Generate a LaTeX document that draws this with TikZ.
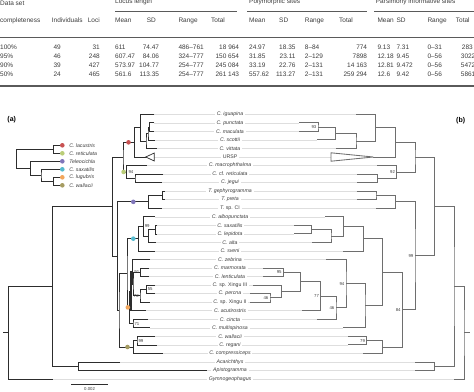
\documentclass[tikz,border=0pt]{standalone}
\usepackage{fontspec}
\setmainfont{Liberation Sans}
\definecolor{cred}{RGB}{200,82,82}
\definecolor{cgreen}{RGB}{186,205,120}
\definecolor{cpurple}{RGB}{128,118,186}
\definecolor{ccyan}{RGB}{84,186,206}
\definecolor{corange}{RGB}{242,166,92}
\definecolor{colive}{RGB}{166,156,98}
\definecolor{txtgray}{RGB}{60,60,60}
\definecolor{ltreecol}{RGB}{45,45,45}
\definecolor{rtreecol}{RGB}{110,110,110}
\definecolor{guidecol}{RGB}{222,222,222}
\definecolor{rulecol}{RGB}{90,90,90}
\begin{document}
\begin{tikzpicture}[x=1pt,y=-1pt,
  tabtxt/.style={font=\fontsize{6.5}{7.5}\selectfont, text=txtgray, inner sep=0pt},
  lab/.style={font=\fontsize{5.2}{6}\selectfont\itshape, text=txtgray, inner sep=1.6pt},
  suplab/.style={font=\fontsize{4.3}{5}\selectfont, text=txtgray, inner sep=0pt},
  panel/.style={font=\fontsize{7}{8}\selectfont\bfseries, text=black, inner sep=0pt},
  ltree/.style={draw=ltreecol, line width=0.7pt},
  rtree/.style={draw=rtreecol, line width=0.85pt},
  itree/.style={draw=ltreecol, line width=0.9pt},
  guide/.style={draw=guidecol, line width=0.45pt},
  tdot/.style={circle, inner sep=0pt, minimum size=4.6pt},
  trule/.style={draw=rulecol, line width=0.5pt},
]
\useasboundingbox (0,0) rectangle (474,391);
\clip (0,0) rectangle (474,391);

% ---------------- table ----------------
\node[tabtxt, anchor=base west] (hds) at (0,5.7) {Data set};
\node[tabtxt, anchor=base west] (hcomp) at (0,22.3) {completeness};
\node[tabtxt, anchor=base west] (hind) at (51.7,22.3) {Individuals};
\node[tabtxt, anchor=base east] (hloci) at (100,22.3) {Loci};
\node[tabtxt, anchor=base west] (hll) at (115,3.8) {Locus length};
\node[tabtxt, anchor=base west] (hps) at (249,3.8) {Polymorphic sites};
\node[tabtxt, anchor=base west] (hpi) at (375.7,3.8) {Parsimony informative sites};
\foreach \x/\t [count=\i] in {115/Mean,146.7/SD,178.3/Range,211/Total,249/Mean,279/SD,304.7/Range,339/Total,377.3/Mean,396.3/SD,427.3/Range,455.7/Total}
  \node[tabtxt, anchor=base west] (hc\i) at (\x,22.3) {\t};
\draw[trule] (115,11) -- (237,11);
\draw[trule] (247.3,11) -- (367.3,11);
\draw[trule] (374,11) -- (474,11);
\draw[trule] (0,37) -- (474,37);
\draw[draw=rulecol, line width=1.4pt] (0,86) -- (474,86);

\foreach \x/\an/\t [count=\i] in {0/west/100\%,53.3/west/49,100/east/31,115/west/611,159.3/east/74.47,178.3/west/486–761,239.3/east/18 964,249/west/24.97,295.7/east/18.35,304.7/west/8–84,367.3/east/774,377.3/west/9.13,396.3/west/7.31,427.3/west/0–31,461.7/west/283}
  \node[tabtxt, anchor=base \an] (ra\i) at (\x,49.6) {\t};
\foreach \x/\an/\t [count=\i] in {0/west/95\%,53.3/west/46,100/east/248,115/west/607.47,159.3/east/84.06,178.3/west/324–777,239.3/east/150 654,249/west/31.85,295.7/east/23.11,304.7/west/2–129,367.3/east/7898,377.3/west/12.18,396.3/west/9.45,427.3/west/0–56,460.7/west/3022}
  \node[tabtxt, anchor=base \an] (rb\i) at (\x,58.6) {\t};
\foreach \x/\an/\t [count=\i] in {0/west/90\%,53.3/west/39,100/east/427,115/west/573.97,159.3/east/104.77,178.3/west/254–777,239.3/east/245 084,249/west/33.19,295.7/east/22.76,304.7/west/2–131,367.3/east/14 163,377.3/west/12.81,396.3/west/9.472,427.3/west/0–56,460.7/west/5472}
  \node[tabtxt, anchor=base \an] (rc\i) at (\x,67.6) {\t};
\foreach \x/\an/\t [count=\i] in {0/west/50\%,53.3/west/24,100/east/465,115/west/561.6,159.3/east/113.35,178.3/west/254–777,239.3/east/261 143,249/west/557.62,295.7/east/113.27,304.7/west/2–131,367.3/east/259 294,377.3/west/12.6,396.3/west/9.42,427.3/west/0–56,460.7/west/5861}
  \node[tabtxt, anchor=base \an] (rd\i) at (\x,76.6) {\t};

% ---------------- tip coordinates ----------------
\foreach \i/\lx/\rx in {1/154.3/356,2/154.3/299,3/154.3/299,4/155/316.7,5/156.7/336,6/154.3/331,7/146.7/377.3,8/163.3/357.3,9/161.7/357.3,10/165/356.7,11/165/356.7,12/161.7/376,13/155/325,14/157/294,15/157/294,16/156/311.7,17/155/343.3,18/150/326,19/148.5/263.3,20/148.5/263.3,21/155/253.3,22/155/250,23/150/250,24/146/301.7,25/148/316.7,26/150/343.3,27/155/348.3,28/156.7/348.3,29/163.3/363.3,30/120/415,31/206.7/415,32/53/454}{
  \coordinate (L\i) at (\lx,{114.3+(\i-1)*8.54});
  \coordinate (R\i) at (\rx,{114.3+(\i-1)*8.54});
}
\coordinate (L6p) at (145.7,157);
\coordinate (L6t) at (154.3,153);
\coordinate (L6b) at (154.3,161);
\coordinate (R6p) at (373.3,157);
\coordinate (R6t) at (331,152.8);
\coordinate (R6b) at (331,161.2);

% ---------------- labels and guides ----------------
\foreach \i/\t in {1/C. iguapina,2/C. punctata,3/C. maculata,4/C. scottii,5/C. vittata,6/\upshape URSP,7/C. macrophthalma,8/C. {\upshape cf.} reticulata,9/C. jegui,10/T. gephyrogramma,11/T. preta,12/T. {\upshape sp. CI},13/C. albopunctata,14/C. saxatilis,15/C. lepidota,16/C. alta,17/C. sveni,18/C. zebrina,19/C. marmorata,20/C. lenticulata,21/C. {\upshape sp. Xingu III},22/C. percna,23/C. {\upshape sp. Xingu II},24/C. acutirostris,25/C. cincta,26/C. multispinosa,27/C. wallacii,28/C. regani,29/C. compressiceps,30/Acarichthys,31/Apistogramma,32/Gymnogeophagus}{
  \node[lab] (n\i) at (230,{114.3+(\i-1)*8.54}) {\t};
  \draw[guide] (L\i) -- (n\i.west);
  \draw[guide] (n\i.east) -- (R\i);
}

% ---------------- left tree (a) ----------------
\coordinate (la1) at (149.5,127.11);
\coordinate (la2) at (148,133.52);
\coordinate (la3) at (146,140.99);
\coordinate (la4) at (140.7,127.64);
\coordinate (la5) at (134.3,142.32);
\coordinate (lb1) at (135,178.35);
\coordinate (lb2) at (126.7,171.95);
\coordinate (lA) at (123,157.13);
\coordinate (lt1) at (162.7,195.43);
\coordinate (lt2) at (148.3,201.84);
\coordinate (lc1) at (155.5,229.59);
\coordinate (lc2) at (148.5,235.99);
\coordinate (lc3) at (143.3,226.39);
\coordinate (lc4) at (138.3,238.66);
\coordinate (lo1) at (140.5,272.29);
\coordinate (lo2) at (146.5,289.37);
\coordinate (lo3) at (140,295.78);
\coordinate (lo4) at (133,284.03);
\coordinate (lo5) at (132.2,271.76);
\coordinate (lo9) at (131,291.24);
\coordinate (lo6) at (133,323.53);
\coordinate (lo11) at (129.5,307.39);
\coordinate (lC) at (127,273.02);
\coordinate (lw1) at (137,340.61);
\coordinate (lw2) at (133.3,347.02);
\coordinate (lD) at (119,310.02);
\coordinate (lB) at (117.7,255.93);
\coordinate (lIn) at (112.3,206.53);
\coordinate (lg1) at (78.3,366.23);
\coordinate (lN2) at (52.7,286.38);
\coordinate (lRoot) at (8.3,332.71);
\coordinate (lStub) at (3,332.71);

\draw[ltree] (L2) -| (la1) |- (L3);
\draw[ltree] (la1) -| (la2) |- (L4);
\draw[ltree] (la2) -| (la3) |- (L5);
\draw[ltree] (L1) -| (la4) |- (la3);
\draw[ltree] (la4) -| (la5) |- (L6p);
\draw[ltree, fill=white] (L6p) -- (L6t) -- (L6b) -- cycle;
\draw[ltree] (L8) -| (lb1) |- (L9);
\draw[ltree] (L7) -| (lb2) |- (lb1);
\draw[ltree] (la5) -| (lA) |- (lb2);
\draw[ltree] (L10) -| (lt1) |- (L11);
\draw[ltree] (lt1) -| (lt2) |- (L12);
\draw[ltree] (L14) -| (lc1) |- (L15);
\draw[ltree] (lc1) -| (lc2) |- (L16);
\draw[ltree] (L13) -| (lc3) |- (lc2);
\draw[ltree] (lc3) -| (lc4) |- (L17);
\draw[ltree] (L19) -| (lo1) |- (L20);
\draw[ltree] (L21) -| (lo2) |- (L22);
\draw[ltree] (lo2) -| (lo3) |- (L23);
\draw[ltree] (lo1) -| (lo4) |- (lo3);
\draw[ltree] (L18) -| (lo5) |- (lo4);
\draw[ltree, line width=1.1pt] (lo5) -| (lo9) |- (L24);
\draw[ltree] (L25) -| (lo6) |- (L26);
\draw[ltree] (lo9) -| (lo11) |- (lo6);
\draw[ltree] (lc4) -| (lC) |- (lo11);
\draw[ltree] (L27) -| (lw1) |- (L28);
\draw[ltree] (lw1) -| (lw2) |- (L29);
\draw[ltree] (lC) -| (lD) |- (lw2);
\draw[ltree] (lt2) -| (lB) |- (lD);
\draw[ltree] (lA) -| (lIn) |- (lB);
\draw[ltree] (L30) -| (lg1) |- (L31);
\draw[ltree] (lIn) -| (lN2) |- (lg1);
\draw[ltree] (lN2) -| (lRoot) |- (L32);
\draw[ltree] (lRoot) -- (lStub);

\node[tdot, fill=cred] (dred) at (128.5,142.32) {};
\node[tdot, fill=cgreen] (dgreen) at (123.6,171.95) {};
\node[tdot, fill=cpurple] (dpurple) at (133.3,201.84) {};
\node[tdot, fill=ccyan] (dcyan) at (133.3,238.66) {};
\node[tdot, fill=corange] (dorange) at (127.8,307.39) {};
\node[tdot, fill=colive] (dolive) at (127.5,347.02) {};

\node[suplab, anchor=west] (sl94) at (128.4,171.95) {94};
\node[suplab, anchor=west] (sl99a) at (144.6,226.39) {99};
\node[suplab, anchor=east] (sl91) at (139.4,272.29) {91};
\node[suplab, anchor=west] (sl55) at (147.6,289.37) {55};
\node[suplab, anchor=east] (sl72) at (138.9,295.78) {72};
\node[suplab, anchor=west] (sl71) at (134.3,323.53) {71};
\node[suplab, anchor=west] (sl99b) at (138.3,340.61) {99};

\coordinate (sb1) at (71,384.3);
\coordinate (sb2) at (108.3,384.3);
\draw[ltree] (sb1) -- (sb2);
\node[suplab] (sbl) at (89.6,388.6) {0.002};

% ---------------- right tree (b) ----------------
\coordinate (p1) at (318,127.11);
\coordinate (p2) at (335.7,133.52);
\coordinate (p3) at (356,140.99);
\coordinate (p4) at (375.3,127.64);
\coordinate (p5) at (395.3,142.32);
\coordinate (q1) at (377.3,178.35);
\coordinate (q2) at (396.7,171.95);
\coordinate (q3) at (415,157.13);
\coordinate (s1) at (376,195.43);
\coordinate (s2) at (395.7,201.84);
\coordinate (u1) at (311.7,229.59);
\coordinate (u2) at (331,235.99);
\coordinate (u3) at (343.3,226.39);
\coordinate (u4) at (363.3,238.66);
\coordinate (v1) at (283.3,272.29);
\coordinate (v2) at (270,297.91);
\coordinate (v3) at (281.7,291.5);
\coordinate (v4) at (300.7,281.9);
\coordinate (v5) at (320.7,296.31);
\coordinate (v6) at (336,307.79);
\coordinate (v7) at (346,283.63);
\coordinate (v8) at (365,305.72);
\coordinate (u5) at (382.7,272.19);
\coordinate (w3) at (366.7,340.61);
\coordinate (w4) at (382.7,347.02);
\coordinate (x1) at (402.3,309.6);
\coordinate (x2) at (415,255.72);
\coordinate (x3) at (434.3,206.43);
\coordinate (g2) at (434.3,366.23);
\coordinate (x4) at (454,286.33);
\coordinate (Rt) at (464,332.69);
\coordinate (RStub) at (470,332.69);

\draw[rtree] (R2) -| (p1) |- (R3);
\draw[rtree] (p1) -| (p2) |- (R4);
\draw[rtree] (p2) -| (p3) |- (R5);
\draw[rtree] (R1) -| (p4) |- (p3);
\draw[rtree] (p4) -| (p5) |- (R6p);
\draw[rtree, fill=white] (R6p) -- (R6t) -- (R6b) -- cycle;
\draw[rtree] (R8) -| (q1) |- (R9);
\draw[rtree] (R7) -| (q2) |- (q1);
\draw[rtree] (p5) -| (q3) |- (q2);
\draw[rtree] (R10) -| (s1) |- (R11);
\draw[rtree] (s1) -| (s2) |- (R12);
\draw[rtree] (R14) -| (u1) |- (R15);
\draw[rtree] (u1) -| (u2) |- (R16);
\draw[rtree] (R13) -| (u3) |- (u2);
\draw[rtree] (u3) -| (u4) |- (R17);
\draw[rtree] (R19) -| (v1) |- (R20);
\draw[rtree] (R22) -| (v2) |- (R23);
\draw[rtree] (R21) -| (v3) |- (v2);
\draw[rtree] (v1) -| (v4) |- (v3);
\draw[rtree] (v4) -| (v5) |- (R24);
\draw[rtree] (v5) -| (v6) |- (R25);
\draw[rtree] (R18) -| (v7) |- (v6);
\draw[rtree] (v7) -| (v8) |- (R26);
\draw[rtree] (u4) -| (u5) |- (v8);
\draw[rtree] (R27) -| (w3) |- (R28);
\draw[rtree] (w3) -| (w4) |- (R29);
\draw[rtree] (u5) -| (x1) |- (w4);
\draw[rtree] (s2) -| (x2) |- (x1);
\draw[rtree] (q3) -| (x3) |- (x2);
\draw[rtree] (R30) -| (g2) |- (R31);
\draw[rtree] (x3) -| (x4) |- (g2);
\draw[rtree] (x4) -| (Rt) |- (R32);
\draw[rtree] (Rt) -- (RStub);

\node[suplab, anchor=east] (sr93) at (316.5,127.11) {93};
\node[suplab, anchor=east] (sr92) at (395.2,171.95) {92};
\node[suplab, anchor=east] (sr99) at (413.5,255.72) {99};
\node[suplab, anchor=east] (sr95) at (281.8,272.29) {95};
\node[suplab, anchor=east] (sr46a) at (268.5,297.91) {46};
\node[suplab, anchor=east] (sr77) at (319.2,296.31) {77};
\node[suplab, anchor=east] (sr46b) at (334.5,307.79) {46};
\node[suplab, anchor=east] (sr94) at (344.5,283.63) {94};
\node[suplab, anchor=east] (sr79) at (365.2,340.61) {79};
\node[suplab, anchor=east] (sr84) at (400.8,309.6) {84};

% ---------------- inset ----------------
\foreach \i in {1,...,6} \coordinate (i\i) at (62.3,{145.3+(\i-1)*8});
\coordinate (ia) at (53.3,149.3);
\coordinate (ib) at (53.3,181.3);
\coordinate (ic) at (41,175.3);
\coordinate (id) at (30.7,168.3);
\coordinate (ie) at (16.7,158.8);
\draw[itree] (i1) -| (ia) |- (i2);
\draw[itree] (i5) -| (ib) |- (i6);
\draw[itree] (i4) -| (ic) |- (ib);
\draw[itree] (i3) -| (id) |- (ic);
\draw[itree] (ia) -| (ie) |- (id);
\foreach \i/\c/\t in {1/cred/C. lacustris,2/cgreen/C. reticulata,3/cpurple/Teleocichla,4/ccyan/C. saxatilis,5/corange/C. lugubris,6/colive/C. wallacii}{
  \node[tdot, fill=\c] (di\i) at (i\i) {};
  \node[lab, anchor=west] (li\i) at (67.5,{145.3+(\i-1)*8}) {\t};
}

\node[panel] (pa) at (11.7,120) {(a)};
\node[panel] (pb) at (460.7,120.7) {(b)};
\end{tikzpicture}
\end{document}
